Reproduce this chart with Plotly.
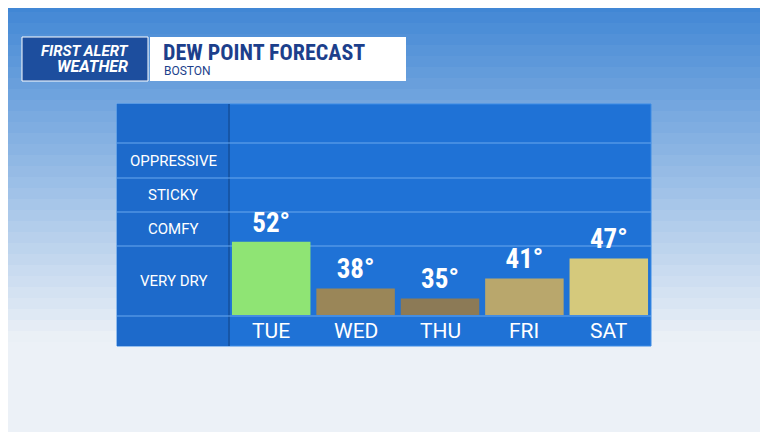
import plotly.graph_objects as go

days = ["TUE", "WED", "THU", "FRI", "SAT"]
dew = [52, 38, 35, 41, 47]
bar_colors = ["#8fe474", "#9a8658", "#8c7a56", "#b9a76c", "#d5c97c"]
bands = ["VERY DRY", "COMFY", "STICKY", "OPPRESSIVE"]
band_px = [(246, 315), (212, 246), (178, 212), (143, 178)]

W, H = 768, 432
OFF = 8  # page body margin
L, R, T, B = 117, 651, 104, 346
def px(p):
    return (p - L) / (R - L)
def py(p):
    return 1 - (p - T) / (B - T)

fig = go.Figure()
fig.add_trace(go.Bar(x=days, y=[v - 30 for v in dew], base=30, marker_color=bar_colors,
                     marker_line_width=0, text=[f"<b>{v}°</b>" for v in dew], textposition="outside",
                     textfont=dict(color="white", size=27, family="Roboto Condensed, Roboto"),
                     cliponaxis=False, width=0.93, hoverinfo="skip"))

shapes = []
n = 40
top = (60, 132, 212); bot = (236, 241, 247)
for i in range(n):
    t = i / (n - 1)
    c = tuple(int(top[k] + (bot[k] - top[k]) * min(1, t * 1.25)) for k in range(3))
    shapes.append(dict(type="rect", xref="paper", yref="paper", x0=px(-20), x1=px(800),
                       y0=py((i + 1) / n * 440), y1=py(i / n * 440 - 10), fillcolor=f"rgb{c}",
                       line_width=0, layer="below"))
shapes.append(dict(type="rect", xref="paper", yref="paper", x0=0, x1=1, y0=0, y1=1,
                   fillcolor="#1f72d6", line=dict(color="#3d8ce6", width=1), layer="below"))
shapes.append(dict(type="rect", xref="paper", yref="paper", x0=0, x1=px(229), y0=0, y1=1,
                   fillcolor="#1d6acb", line_width=0, layer="below"))
shapes.append(dict(type="line", xref="paper", yref="paper", x0=px(229), x1=px(229), y0=0, y1=1,
                   line=dict(color="#1656a8", width=2), layer="below"))
for y in [143, 178, 212, 246, 316]:
    shapes.append(dict(type="line", xref="paper", yref="paper", x0=0, x1=1, y0=py(y), y1=py(y),
                       line=dict(color="#6aa8ee", width=1), layer="below"))
shapes.append(dict(type="rect", xref="paper", yref="paper", x0=px(22), x1=px(148), y0=py(81), y1=py(37),
                   fillcolor="#1d4e9e", line=dict(color="white", width=1)))
shapes.append(dict(type="rect", xref="paper", yref="paper", x0=px(150), x1=px(406), y0=py(81), y1=py(37),
                   fillcolor="white", line_width=0))

ann = []
def A(**k):
    k.setdefault("xanchor", "center"); k.setdefault("yanchor", "middle")
    k.setdefault("xref", "paper"); k.setdefault("yref", "paper"); k["showarrow"] = False
    ann.append(k)

for name, (a, b) in zip(bands, band_px):
    A(x=px(173), y=py((a + b) / 2), text=name, font=dict(color="white", size=15, family="Roboto"))
for d in days:
    A(x=d, xref="x", y=py(331), text=d, font=dict(color="white", size=21, family="Roboto"))
A(x=px(85), y=py(51), text="<b><i>FIRST ALERT</i></b>", font=dict(color="white", size=15, family="Roboto"))
A(x=px(92), y=py(67), text="<b><i>WEATHER</i></b>", font=dict(color="white", size=16, family="Roboto"))
A(x=px(161), y=py(52), xanchor="left", text="<b>DEW POINT FORECAST</b>",
  font=dict(color="#1c3f8c", size=22, family="Roboto Condensed, Roboto"))
A(x=px(162), y=py(71), xanchor="left", text="BOSTON", font=dict(color="#1c3f8c", size=12, family="Roboto"))

fig.update_layout(
    width=W, height=H, margin=dict(l=L - OFF, r=W - R + OFF, t=T - OFF, b=H - B + OFF),
    paper_bgcolor="#e6edf5", plot_bgcolor="rgba(0,0,0,0)", showlegend=False,
    shapes=shapes, annotations=ann,
    xaxis=dict(domain=[px(229), 1], showgrid=False, showline=False, ticks="", showticklabels=False),
    yaxis=dict(range=[20.7, 93.4], visible=False),
)
fig.write_html("out.html")
